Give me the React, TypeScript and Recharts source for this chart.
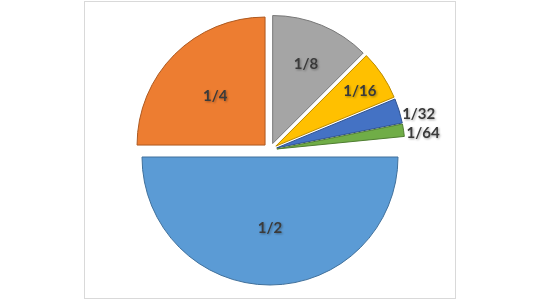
import { PieChart, Pie, Cell, Sector } from "recharts";

// slices in clockwise order from 9 o'clock; the unnamed 1/64 is the missing wedge
const names = ["1/4", "1/8", "1/16", "1/32", "1/64", "", "1/2"];
const values = [1 / 4, 1 / 8, 1 / 16, 1 / 32, 1 / 64, 1 / 64, 1 / 2];
const fills = ["#ED7D31", "#A5A5A5", "#FFC000", "#4472C4", "#70AD47", "none", "#5B9BD5"];
const strokes = ["#AE5A21", "#787878", "#BC8C00", "#2F528F", "#507E32", "none", "#41719C"];

const data = names.map((name, i) => ({ name, value: values[i] }));

const RAD = Math.PI / 180;
const EXPLODE = 7;

function ExplodedSector(props: any) {
  const { cx, cy, midAngle } = props;
  return (
    <Sector
      {...props}
      cx={cx + EXPLODE * Math.cos(-midAngle * RAD)}
      cy={cy + EXPLODE * Math.sin(-midAngle * RAD)}
    />
  );
}

function renderLabel({ cx, cy, midAngle, outerRadius, percent, name, index }: any) {
  if (!name) return null;
  const ex = cx + EXPLODE * Math.cos(-midAngle * RAD);
  const ey = cy + EXPLODE * Math.sin(-midAngle * RAD);
  const cos = Math.cos(-midAngle * RAD);
  const sin = Math.sin(-midAngle * RAD);
  let x: number;
  let y: number;
  let anchor: "middle" | "start" = "middle";
  if (percent < 0.05) {
    // outside labels sit just past the arc, a little below the slice middle
    x = ex + outerRadius * cos + 3;
    y = ey + outerRadius * sin + 2;
    anchor = "start";
  } else {
    const f = percent >= 0.2 ? 0.55 : percent >= 0.1 ? 0.68 : 0.79;
    x = ex + outerRadius * f * cos;
    y = ey + outerRadius * f * sin;
  }
  const fid = `lblshadow${index}`;
  return (
    <g>
      <defs>
        <filter id={fid} x="-20%" y="-20%" width="140%" height="140%">
          <feDropShadow dx="1" dy="1" stdDeviation="0.8" floodColor="#000" floodOpacity="0.35" />
        </filter>
      </defs>
      <text
        x={x}
        y={y}
        textAnchor={anchor}
        dominantBaseline="central"
        fill="#3A3A3A"
        fontSize={15}
        fontWeight={700}
        fontFamily="Lato, 'Open Sans', sans-serif"
        filter={`url(#${fid})`}
      >
        {name}
      </text>
    </g>
  );
}

export default function App() {
  return (
    <div style={{ position: "absolute", left: 0, top: 0, width: 540, height: 300, background: "#fff" }}>
      <div
        style={{
          position: "absolute",
          left: 84,
          top: 1,
          width: 370,
          height: 296,
          border: "1px solid #D9D9D9",
        }}
      />
      <PieChart
        width={540}
        height={300}
        margin={{ top: 0, right: 0, bottom: 0, left: 0 }}
        style={{ position: "absolute", left: 0, top: 0 }}
      >
        <Pie
          data={data}
          dataKey="value"
          nameKey="name"
          cx={270}
          cy={150}
          outerRadius={128}
          startAngle={180}
          endAngle={-180}
          strokeWidth={1}
          shape={ExplodedSector}
          label={renderLabel}
          labelLine={false}
          isAnimationActive={false}
        >
          {data.map((d, i) => (
            <Cell key={i} fill={fills[i]} stroke={strokes[i]} />
          ))}
        </Pie>
      </PieChart>
    </div>
  );
}
